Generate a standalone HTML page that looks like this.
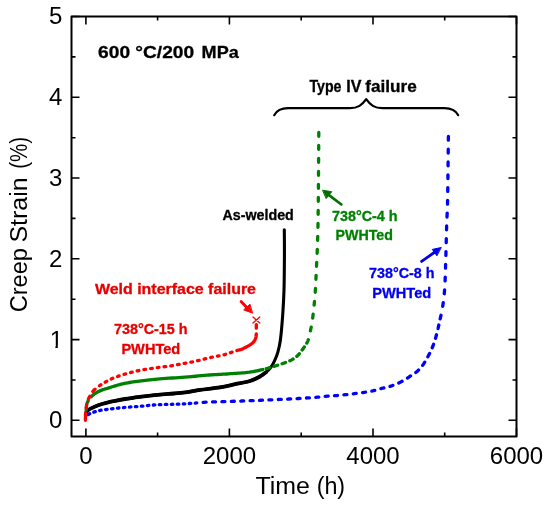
<!DOCTYPE html>
<html><head><meta charset="utf-8"><title>Creep strain</title>
<style>
html,body{margin:0;padding:0;background:#fff;width:550px;height:507px;overflow:hidden}
svg{display:block}
</style></head><body>
<svg width="550" height="507" viewBox="0 0 550 507">
<defs><clipPath id="c1"><rect x="40" y="320" width="30" height="25.3"/><rect x="55.4" y="320" width="2.4" height="40"/></clipPath></defs>
<rect width="550" height="507" fill="#fff"/>
<g fill="none" stroke-linecap="round" stroke-linejoin="round" stroke-width="3.3">
<path d="M448.40,136.40 L448.35,140.20 M448.25,149.20 L448.21,153.00 M448.11,162.00 L448.07,165.80 M447.96,174.80 L447.91,178.60 M447.80,187.60 L447.74,191.40 M447.59,200.39 L447.51,204.19 M447.19,213.19 L447.09,215.06 L446.98,216.98 M446.64,225.98 L446.54,229.58 L446.53,229.77 M446.30,238.77 L446.21,242.52 L446.20,242.57 M445.98,251.57 L445.87,255.37 M445.61,264.36 L445.51,267.83 L445.50,268.16 M445.23,277.16 L445.11,280.33 L445.09,280.95 M444.58,289.94 L444.42,291.96 L444.26,293.73 M443.23,302.66 L443.00,304.31 L442.70,306.34 L442.69,306.43 M440.98,315.26 L440.68,316.58 L440.33,318.06 L440.15,318.87 M438.82,325.02 L438.57,326.14 L438.30,327.37 L438.01,328.61 L438.00,328.63 M436.49,334.75 L436.15,336.02 L435.80,337.33 L435.52,338.32 M433.56,344.30 L433.14,345.42 L432.71,346.54 L432.27,347.63 L432.22,347.75 M429.59,353.48 L429.17,354.28 L428.72,355.11 L428.24,355.99 L427.83,356.73 M424.76,362.23 L424.17,363.20 L423.53,364.18 L422.89,365.10 L422.72,365.32 M418.60,370.07 L417.86,370.77 L417.07,371.46 L416.25,372.11 L415.79,372.47 M410.56,375.99 L409.83,376.48 L408.95,377.07 L408.06,377.65 L407.48,378.03 M402.08,381.28 L401.42,381.64 L400.74,382.00 L400.06,382.34 L399.33,382.69 L398.78,382.95 M392.88,385.41 L391.84,385.79 L390.74,386.16 L390.04,386.39 M383.84,387.98 L382.98,388.18 L381.69,388.48 L380.92,388.67 M374.75,390.37 L373.56,390.69 L372.28,391.01 L371.85,391.11 M365.54,392.22 L364.47,392.37 L362.85,392.58 L362.57,392.61 M356.22,393.40 L354.32,393.64 L353.24,393.77 M346.89,394.54 L345.30,394.73 L343.91,394.89 M337.54,395.50 L336.65,395.56 L335.47,395.61 L334.54,395.65 M328.16,396.07 L327.12,396.18 L325.64,396.34 L325.17,396.39 M318.81,397.07 L317.30,397.20 L315.82,397.32 M309.44,397.79 L307.28,397.93 L306.45,397.99 M300.06,398.40 L298.69,398.48 L297.06,398.58 M290.67,398.92 L289.05,399.00 L287.68,399.07 M281.28,399.38 L279.38,399.46 L278.29,399.51 M271.89,399.80 L269.77,399.89 L268.90,399.93 M262.50,400.21 L261.02,400.27 L259.50,400.33 M253.11,400.58 L251.41,400.65 L250.11,400.70 M243.72,400.93 L241.28,401.01 L240.72,401.03 M234.32,401.25 L231.75,401.34 L231.32,401.36 M224.93,401.54 L222.93,401.59 L221.93,401.62 M215.53,401.79 L212.81,401.88 L212.53,401.89 M206.14,402.21 L204.01,402.35 L203.15,402.41 M196.77,402.91 L195.27,403.03 M190.78,403.38 L189.29,403.50 M184.80,403.80 L183.30,403.88 M178.81,404.08 L177.31,404.13 M172.81,404.25 L171.31,404.28 M166.81,404.39 L165.31,404.42 M160.81,404.57 L159.31,404.63 M154.82,404.91 L153.33,405.02 M148.85,405.43 L147.35,405.59 M142.88,406.04 L141.38,406.18 M136.90,406.54 L135.40,406.65 M130.91,406.96 L129.63,407.04 L129.42,407.06 M124.93,407.41 L123.43,407.54 M118.96,407.99 L117.79,408.12 L117.47,408.15 M112.99,408.66 L112.08,408.77 L111.51,408.84 M107.05,409.44 L106.31,409.54 L105.56,409.64 M101.10,410.23 L100.28,410.38 L99.63,410.52 M95.28,411.69 L94.63,411.89 L93.85,412.14 M89.67,413.78 L89.20,414.00 L88.77,414.22 L88.40,414.40 L88.32,414.44" stroke="#0000ff"/>
<path d="M85.9,415.0 C85.95,414.58 85.93,413.23 86.20,412.50 C86.47,411.77 86.68,411.28 87.50,410.60 C88.32,409.92 89.32,409.30 91.10,408.40 C92.88,407.50 95.83,406.08 98.20,405.20 C100.57,404.32 103.67,403.57 105.30,403.10 C106.93,402.63 106.63,402.72 108.00,402.40 C109.37,402.08 110.67,401.77 113.50,401.20 C116.33,400.63 120.58,399.72 125.00,399.00 C129.42,398.28 134.50,397.60 140.00,396.90 C145.50,396.20 150.83,395.50 158.00,394.80 C165.17,394.10 176.00,393.52 183.00,392.70 C190.00,391.88 193.83,390.78 200.00,389.90 C206.17,389.02 214.17,388.35 220.00,387.40 C225.83,386.45 230.00,385.27 235.00,384.20 C240.00,383.13 245.83,382.28 250.00,381.00 C254.17,379.72 257.33,377.95 260.00,376.50 C262.67,375.05 264.18,373.83 266.00,372.30 C267.82,370.77 269.48,369.20 270.90,367.30 C272.32,365.40 273.37,363.33 274.50,360.90 C275.63,358.47 276.72,356.18 277.70,352.70 C278.68,349.22 279.57,346.28 280.40,340.00 C281.23,333.72 282.10,323.33 282.70,315.00 C283.30,306.67 283.72,299.17 284.00,290.00 C284.28,280.83 284.33,268.33 284.40,260.00 C284.47,251.67 284.42,245.05 284.40,240.00 C284.38,234.95 284.32,231.42 284.30,229.70" stroke="#000" stroke-width="3.1"/>
<path d="M85.9,415.0 C85.95,414.58 85.93,413.23 86.20,412.50 C86.47,411.77 86.68,411.28 87.50,410.60 C88.32,409.92 89.32,409.30 91.10,408.40 C92.88,407.50 95.83,406.08 98.20,405.20 C100.57,404.32 103.67,403.57 105.30,403.10 C106.93,402.63 106.63,402.72 108.00,402.40 C109.37,402.08 110.67,401.77 113.50,401.20 C116.33,400.63 120.58,399.72 125.00,399.00 C129.42,398.28 134.50,397.60 140.00,396.90 C145.50,396.20 150.83,395.50 158.00,394.80 C165.17,394.10 176.00,393.52 183.00,392.70 C190.00,391.88 193.83,390.78 200.00,389.90 C206.17,389.02 214.17,388.35 220.00,387.40 C225.83,386.45 230.00,385.27 235.00,384.20 C240.00,383.13 245.83,382.28 250.00,381.00 C254.17,379.72 257.33,377.95 260.00,376.50 C262.67,375.05 265.00,373.00 266.00,372.30" stroke="#000" stroke-width="3.8"/>
<path d="M318.80,132.40 L318.77,136.30 M318.71,145.40 L318.69,149.30 M318.62,158.40 L318.60,162.30 M318.53,171.40 L318.51,175.30 M318.44,184.40 L318.41,188.30 M318.33,197.40 L318.29,201.30 M318.19,210.40 L318.14,214.30 M318.01,223.40 L317.96,226.75 L317.95,227.30 M317.74,236.39 L317.62,240.29 M317.29,249.39 L317.15,252.58 L317.12,253.28 M316.69,262.37 L316.57,264.95 L316.50,266.27 M316.09,275.36 L315.99,277.61 L315.92,279.25 M315.46,288.34 L315.30,291.18 L315.23,292.24 M314.50,301.31 L314.29,303.51 L314.12,305.19 M313.14,314.23 L312.96,315.82 L312.76,317.45 L312.68,318.11 M311.21,327.09 L310.98,328.25 L310.73,329.44 L310.48,330.60 L310.42,330.90 M308.29,339.75 L308.12,340.21 L307.88,340.81 L307.64,341.37 L307.39,341.90 L307.12,342.42 L306.83,342.94 L306.74,343.10 M304.29,346.99 L303.81,347.71 L303.26,348.49 L302.71,349.26 L302.16,350.02 L302.16,350.02 M299.37,353.68 L298.92,354.22 L298.34,354.87 L297.73,355.50 L297.08,356.10 L296.81,356.34 M293.09,359.04 L292.51,359.38 L291.68,359.85 L290.82,360.30 L289.90,360.73 L289.82,360.77 M285.55,362.48 L284.60,362.83 L283.60,363.20 L282.62,363.56 L282.08,363.75 M277.72,365.20 L276.99,365.43 L275.88,365.78 L274.72,366.14 L274.19,366.32 M269.80,367.69 L268.46,368.08 L267.04,368.48 L266.23,368.69 M262.76,369.54 L260.95,369.96 L259.07,370.38 L257.13,370.80 L255.17,371.20 L253.20,371.57 L251.26,371.90 L249.38,372.19 L247.50,372.42 L245.62,372.62 L243.75,372.78 L241.88,372.93 L240.00,373.06 L238.12,373.18 L236.25,373.31 L234.37,373.45 L232.47,373.59 L230.53,373.72 L228.60,373.85 L226.67,373.98 L224.78,374.10 L222.93,374.22 L221.14,374.33 L219.45,374.43 L217.98,374.52 L216.67,374.58 L215.45,374.64 L214.20,374.70 L212.85,374.77 L211.30,374.86 L209.45,374.99 L207.21,375.16 L204.59,375.39 L201.66,375.65 L198.50,375.94 L195.20,376.24 L191.81,376.55 L188.43,376.85 L185.12,377.13 L181.95,377.38 L178.75,377.61 L175.50,377.82 L172.23,378.02 L168.99,378.22 L165.81,378.42 L162.75,378.63 L159.84,378.85 L157.11,379.08 L154.56,379.33 L152.15,379.58 L149.85,379.84 L147.65,380.11 L145.52,380.38 L143.43,380.65 L141.37,380.92 L139.31,381.19 L137.29,381.45 L135.30,381.71 L133.36,381.96 L131.47,382.23 L129.63,382.50 L127.84,382.78 L126.12,383.08 L124.45,383.41 L122.81,383.78 L121.21,384.18 L119.66,384.59 L118.17,385.02 L116.76,385.43 L115.44,385.82 L114.24,386.18 L113.16,386.50 L112.23,386.78 L111.44,387.03 L110.75,387.26 L110.13,387.48 L109.56,387.68 L109.00,387.87 L108.41,388.07 L107.79,388.27 L107.16,388.45 L106.55,388.62 L105.96,388.78 L105.37,388.93 L104.79,389.10 L104.20,389.27 L103.60,389.46 L103.00,389.67 L102.38,389.90 L101.76,390.13 L101.13,390.37 L100.50,390.62 L99.87,390.89 L99.25,391.18 L98.62,391.48 L97.99,391.81 L97.36,392.15 L96.72,392.51 L96.08,392.88 L95.44,393.28 L94.81,393.69 L94.19,394.12 L93.59,394.58 L93.01,395.06 L92.43,395.59 L91.86,396.14 L91.29,396.72 L91.16,396.86 M88.12,400.94 L87.86,401.45 L87.58,402.04 L87.33,402.62 L87.21,402.94 M86.31,407.92 L86.27,408.39 L86.22,409.06 L86.17,409.77 L86.15,410.12" stroke="#008000"/>
<path d="M256.30,333.80 L256.28,334.07 L256.26,334.42 L256.23,334.85 L256.20,335.32 L256.16,335.82 L256.09,336.33 L256.01,336.83 L255.90,337.30 L255.77,337.76 L255.62,338.22 L255.46,338.69 L255.28,339.17 L255.08,339.64 L254.85,340.11 L254.59,340.56 L254.30,341.00 L253.98,341.43 L253.63,341.84 L253.26,342.25 L252.86,342.65 L252.43,343.04 L251.98,343.43 L251.50,343.82 L251.00,344.20 L250.46,344.58 L249.89,344.96 L249.28,345.34 L248.65,345.71 L248.01,346.07 L247.36,346.42 L246.72,346.77 L246.10,347.10 L245.48,347.43 L244.86,347.75 L244.23,348.06 L243.60,348.37 L242.98,348.66 L242.37,348.93 L241.77,349.18 L241.20,349.40 L240.66,349.58 L240.16,349.72 L239.67,349.83 L239.20,349.92 L238.72,350.01 L238.22,350.11 L237.68,350.24 L237.10,350.40 L236.90,350.46 M232.10,352.16 L231.61,352.33 L231.00,352.53 L230.48,352.69 M225.62,354.23 L225.06,354.45 L224.46,354.68 L224.03,354.83 M219.05,355.88 L218.18,356.00 L217.37,356.11 M212.36,357.06 L211.59,357.24 L210.76,357.43 L210.70,357.45 M205.75,358.66 L204.62,358.94 L204.10,359.07 M199.15,360.32 L197.75,360.66 L197.50,360.72 M192.52,361.82 L191.46,362.03 L190.85,362.15 M185.84,363.08 L184.54,363.31 L184.17,363.38 M179.16,364.34 L177.60,364.64 L177.49,364.66 M172.47,365.59 L171.05,365.83 L170.80,365.87 M165.75,366.56 L164.77,366.67 L164.06,366.75 M158.99,367.36 L157.36,367.59 L157.31,367.60 M152.26,368.31 L150.58,368.55 M145.53,369.32 L143.86,369.60 M138.84,370.54 L137.29,370.87 L137.18,370.90 M132.23,372.10 L130.85,372.46 L130.58,372.53 M125.67,373.91 L124.45,374.26 L124.04,374.38 M119.18,375.93 L117.79,376.41 L117.57,376.48 M112.80,378.28 L112.08,378.59 L111.24,378.96 M106.73,381.33 L106.02,381.72 L105.24,382.15 M100.88,384.79 L100.26,385.21 L99.48,385.76 M95.04,389.17 L94.40,389.76 L93.66,390.50 L92.98,391.26 L92.81,391.46 M89.84,396.20 L89.53,396.77 L89.13,397.56 L88.76,398.26 L88.45,398.91 L88.39,399.05 M86.73,404.39 L86.63,404.86 L86.52,405.47 L86.41,406.11 L86.31,406.78 L86.20,407.50 L86.19,407.54 M85.59,413.11 L85.54,413.81 L85.48,414.70 L85.45,415.65 L85.43,416.30 M256.35,324.6 L256.3,328.2 M85.45,417 L85.4,420.3" stroke="#ff0000"/>
</g>
<g stroke="#000" fill="none" stroke-width="2">
<rect x="71.5" y="16.5" width="445.0" height="420.0" stroke-linejoin="round"/>
<path d="M85.9,436.5v-8 M85.9,16.5v8 M157.6,436.5v-4 M157.6,16.5v4 M229.4,436.5v-8 M229.4,16.5v8 M301.2,436.5v-4 M301.2,16.5v4 M373.0,436.5v-8 M373.0,16.5v8 M444.7,436.5v-4 M444.7,16.5v4 M516.5,436.5v-8 M516.5,16.5v8 M71.5,420.3h8 M516.5,420.3h-8 M71.5,380.0h4 M516.5,380.0h-4 M71.5,339.6h8 M516.5,339.6h-8 M71.5,299.2h4 M516.5,299.2h-4 M71.5,258.8h8 M516.5,258.8h-8 M71.5,218.4h4 M516.5,218.4h-4 M71.5,178.0h8 M516.5,178.0h-8 M71.5,137.7h4 M516.5,137.7h-4 M71.5,97.3h8 M516.5,97.3h-8 M71.5,56.9h4 M516.5,56.9h-4 M71.5,16.5h8 M516.5,16.5h-8" stroke-width="1.6"/>
</g>
<g font-family="Liberation Sans, Arial, sans-serif" fill="#000" font-size="24">
<text x="62.3" y="428.1" text-anchor="end">0</text><text x="63.1" y="347.8" text-anchor="end" clip-path="url(#c1)">1</text><text x="62.3" y="266.6" text-anchor="end">2</text><text x="62.3" y="185.8" text-anchor="end">3</text><text x="62.3" y="105.1" text-anchor="end">4</text><text x="62.3" y="24.3" text-anchor="end">5</text>
<text x="85.9" y="464.2" text-anchor="middle">0</text><text x="229.4" y="464.2" text-anchor="middle">2000</text><text x="373.0" y="464.2" text-anchor="middle">4000</text><text x="516.5" y="464.2" text-anchor="middle">6000</text>
<g font-size="23" text-anchor="middle"><text x="282.75" y="494.1" textLength="54.5" lengthAdjust="spacingAndGlyphs">Time</text>
<text x="330.9" y="494.1" textLength="28.5" lengthAdjust="spacingAndGlyphs">(h)</text></g>
<g font-size="23" text-anchor="middle"><text transform="translate(26.9,280.15) rotate(-90)" textLength="64.3" lengthAdjust="spacingAndGlyphs">Creep</text>
<text transform="translate(26.9,210) rotate(-90)" textLength="65" lengthAdjust="spacingAndGlyphs">Strain</text>
<text transform="translate(26.9,152.8) rotate(-90)" textLength="32" lengthAdjust="spacingAndGlyphs">(%)</text></g>
</g>
<g font-family="Liberation Sans, Arial, sans-serif" font-weight="bold" stroke-width="0.3">
<text x="98.1" y="57.7" font-size="16.5" textLength="96" lengthAdjust="spacingAndGlyphs" stroke="#000">600 °C/200</text>
<text x="201.6" y="57.7" font-size="16.5" textLength="37.2" lengthAdjust="spacingAndGlyphs" stroke="#000">MPa</text>
<text x="309.5" y="91.9" font-size="16.4" textLength="32" lengthAdjust="spacingAndGlyphs" stroke="#000">Type</text>
<text x="346.3" y="91.9" font-size="16.4" textLength="15.2" lengthAdjust="spacingAndGlyphs" stroke="#000">IV</text>
<text x="365.3" y="91.9" font-size="16.4" textLength="51.5" lengthAdjust="spacingAndGlyphs" stroke="#000">failure</text>
<text x="222.4" y="220.4" font-size="14.6" textLength="71.4" lengthAdjust="spacingAndGlyphs" stroke="#000">As-welded</text>
<g fill="#008000" stroke="#008000">
<text x="332" y="221.2" font-size="14.6" textLength="65.6" lengthAdjust="spacingAndGlyphs">738°C-4 h</text>
<text x="335.5" y="240.2" font-size="14.6" textLength="57.5" lengthAdjust="spacingAndGlyphs">PWHTed</text>
</g>
<g fill="#0000ee" stroke="#0000ee">
<text x="369" y="278.2" font-size="14.6" textLength="65.5" lengthAdjust="spacingAndGlyphs">738°C-8 h</text>
<text x="372.3" y="297.5" font-size="14.6" textLength="58.9" lengthAdjust="spacingAndGlyphs">PWHTed</text>
</g>
<g fill="#e60000" stroke="#e60000">
<text x="94.9" y="293.5" font-size="14.6" textLength="161.1" lengthAdjust="spacingAndGlyphs">Weld interface failure</text>
<text x="114" y="334.0" font-size="14.6" textLength="73.6" lengthAdjust="spacingAndGlyphs">738°C-15 h</text>
<text x="121.4" y="353.7" font-size="14.6" textLength="58.9" lengthAdjust="spacingAndGlyphs">PWHTed</text>
</g>
</g>
<path d="M274.2,115.2 C277,110 281,108.2 288,108.2 L350,108.2 C358,108.2 362,105 366.2,99.1 C370.4,105 374.4,108.2 382.4,108.2 L444.4,108.2 C451.4,108.2 455.4,110 458.2,115.2" fill="none" stroke="#000" stroke-width="2.2" stroke-linecap="round" stroke-linejoin="round"/>
<g stroke-linecap="round">
<line x1="341.4" y1="204.5" x2="327" y2="193.6" stroke="#006f00" stroke-width="2.6"/>
<path d="M322.9,190.3 L331.7,191.7 L326.4,198.3 Z" fill="#006f00" stroke="#006f00" stroke-width="1" stroke-linejoin="round"/>
<line x1="421.6" y1="261.4" x2="435" y2="252" stroke="#0000ee" stroke-width="2.8"/>
<path d="M440.9,247.6 L432.3,249.4 L436.7,255.5 Z" fill="#0000ee" stroke="#0000ee" stroke-width="1" stroke-linejoin="round"/>
<line x1="241.1" y1="301.6" x2="247.5" y2="308.2" stroke="#ff0000" stroke-width="2.9"/>
<path d="M252.2,313 L243.7,309.9 L249.7,304.4 Z" fill="#ff0000" stroke="#ff0000" stroke-width="1" stroke-linejoin="round"/>
<path d="M253,317 L259.8,323 M259.8,317 L253,323" stroke="#ff0000" stroke-width="1.3"/>
</g>
</svg>
</body></html>
